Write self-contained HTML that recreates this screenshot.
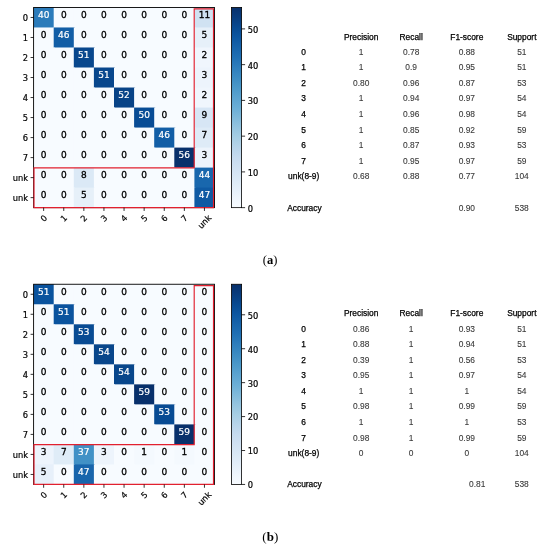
<!DOCTYPE html>
<html><head><meta charset="utf-8"><title>Confusion matrices</title>
<style>html,body{margin:0;padding:0;background:#fff;}body{width:550px;height:547px;overflow:hidden;}svg{display:block;}</style>
</head><body>
<svg width="550" height="547" viewBox="0 0 550 547">
<style>
.m text{font-family:'DejaVu Sans',sans-serif;stroke:#000;stroke-width:0.2px;}
.m text.c{stroke-width:0.3px;}
.m text.w{fill:#fff;stroke:#fff;stroke-width:0.2px;}
.th{font-family:'Liberation Sans',sans-serif;font-size:8.4px;fill:#000;stroke:#000;stroke-width:0.25px;}
.tl{font-family:'Liberation Sans',sans-serif;font-size:8.4px;fill:#000;stroke:#000;stroke-width:0.25px;}
.tv{font-family:'Liberation Sans',sans-serif;font-size:8.4px;fill:#3a3a3a;stroke:#3a3a3a;stroke-width:0.1px;}
.cap{font-family:'Liberation Serif',serif;fill:#000;}
</style>
<rect width="550" height="547" fill="#fff"/>
<g class="m">
<rect x="33.60" y="7.45" width="21.10" height="21.02" fill="#2b7bba"/>
<rect x="53.70" y="7.45" width="21.10" height="21.02" fill="#f7fbff"/>
<rect x="73.80" y="7.45" width="21.10" height="21.02" fill="#f7fbff"/>
<rect x="93.90" y="7.45" width="21.10" height="21.02" fill="#f7fbff"/>
<rect x="114.00" y="7.45" width="21.10" height="21.02" fill="#f7fbff"/>
<rect x="134.10" y="7.45" width="21.10" height="21.02" fill="#f7fbff"/>
<rect x="154.20" y="7.45" width="21.10" height="21.02" fill="#f7fbff"/>
<rect x="174.30" y="7.45" width="21.10" height="21.02" fill="#f7fbff"/>
<rect x="194.40" y="7.45" width="20.30" height="21.02" fill="#d0e2f2"/>
<rect x="33.60" y="27.47" width="21.10" height="21.02" fill="#f7fbff"/>
<rect x="53.70" y="27.47" width="21.10" height="21.02" fill="#125ea6"/>
<rect x="73.80" y="27.47" width="21.10" height="21.02" fill="#f7fbff"/>
<rect x="93.90" y="27.47" width="21.10" height="21.02" fill="#f7fbff"/>
<rect x="114.00" y="27.47" width="21.10" height="21.02" fill="#f7fbff"/>
<rect x="134.10" y="27.47" width="21.10" height="21.02" fill="#f7fbff"/>
<rect x="154.20" y="27.47" width="21.10" height="21.02" fill="#f7fbff"/>
<rect x="174.30" y="27.47" width="21.10" height="21.02" fill="#f7fbff"/>
<rect x="194.40" y="27.47" width="20.30" height="21.02" fill="#e6f0f9"/>
<rect x="33.60" y="47.49" width="21.10" height="21.02" fill="#f7fbff"/>
<rect x="53.70" y="47.49" width="21.10" height="21.02" fill="#f7fbff"/>
<rect x="73.80" y="47.49" width="21.10" height="21.02" fill="#08478d"/>
<rect x="93.90" y="47.49" width="21.10" height="21.02" fill="#f7fbff"/>
<rect x="114.00" y="47.49" width="21.10" height="21.02" fill="#f7fbff"/>
<rect x="134.10" y="47.49" width="21.10" height="21.02" fill="#f7fbff"/>
<rect x="154.20" y="47.49" width="21.10" height="21.02" fill="#f7fbff"/>
<rect x="174.30" y="47.49" width="21.10" height="21.02" fill="#f7fbff"/>
<rect x="194.40" y="47.49" width="20.30" height="21.02" fill="#f0f6fd"/>
<rect x="33.60" y="67.51" width="21.10" height="21.02" fill="#f7fbff"/>
<rect x="53.70" y="67.51" width="21.10" height="21.02" fill="#f7fbff"/>
<rect x="73.80" y="67.51" width="21.10" height="21.02" fill="#f7fbff"/>
<rect x="93.90" y="67.51" width="21.10" height="21.02" fill="#08478d"/>
<rect x="114.00" y="67.51" width="21.10" height="21.02" fill="#f7fbff"/>
<rect x="134.10" y="67.51" width="21.10" height="21.02" fill="#f7fbff"/>
<rect x="154.20" y="67.51" width="21.10" height="21.02" fill="#f7fbff"/>
<rect x="174.30" y="67.51" width="21.10" height="21.02" fill="#f7fbff"/>
<rect x="194.40" y="67.51" width="20.30" height="21.02" fill="#edf4fc"/>
<rect x="33.60" y="87.53" width="21.10" height="21.02" fill="#f7fbff"/>
<rect x="53.70" y="87.53" width="21.10" height="21.02" fill="#f7fbff"/>
<rect x="73.80" y="87.53" width="21.10" height="21.02" fill="#f7fbff"/>
<rect x="93.90" y="87.53" width="21.10" height="21.02" fill="#f7fbff"/>
<rect x="114.00" y="87.53" width="21.10" height="21.02" fill="#084387"/>
<rect x="134.10" y="87.53" width="21.10" height="21.02" fill="#f7fbff"/>
<rect x="154.20" y="87.53" width="21.10" height="21.02" fill="#f7fbff"/>
<rect x="174.30" y="87.53" width="21.10" height="21.02" fill="#f7fbff"/>
<rect x="194.40" y="87.53" width="20.30" height="21.02" fill="#f0f6fd"/>
<rect x="33.60" y="107.55" width="21.10" height="21.02" fill="#f7fbff"/>
<rect x="53.70" y="107.55" width="21.10" height="21.02" fill="#f7fbff"/>
<rect x="73.80" y="107.55" width="21.10" height="21.02" fill="#f7fbff"/>
<rect x="93.90" y="107.55" width="21.10" height="21.02" fill="#f7fbff"/>
<rect x="114.00" y="107.55" width="21.10" height="21.02" fill="#f7fbff"/>
<rect x="134.10" y="107.55" width="21.10" height="21.02" fill="#084c95"/>
<rect x="154.20" y="107.55" width="21.10" height="21.02" fill="#f7fbff"/>
<rect x="174.30" y="107.55" width="21.10" height="21.02" fill="#f7fbff"/>
<rect x="194.40" y="107.55" width="20.30" height="21.02" fill="#d7e6f5"/>
<rect x="33.60" y="127.57" width="21.10" height="21.02" fill="#f7fbff"/>
<rect x="53.70" y="127.57" width="21.10" height="21.02" fill="#f7fbff"/>
<rect x="73.80" y="127.57" width="21.10" height="21.02" fill="#f7fbff"/>
<rect x="93.90" y="127.57" width="21.10" height="21.02" fill="#f7fbff"/>
<rect x="114.00" y="127.57" width="21.10" height="21.02" fill="#f7fbff"/>
<rect x="134.10" y="127.57" width="21.10" height="21.02" fill="#f7fbff"/>
<rect x="154.20" y="127.57" width="21.10" height="21.02" fill="#125ea6"/>
<rect x="174.30" y="127.57" width="21.10" height="21.02" fill="#f7fbff"/>
<rect x="194.40" y="127.57" width="20.30" height="21.02" fill="#deebf7"/>
<rect x="33.60" y="147.59" width="21.10" height="21.02" fill="#f7fbff"/>
<rect x="53.70" y="147.59" width="21.10" height="21.02" fill="#f7fbff"/>
<rect x="73.80" y="147.59" width="21.10" height="21.02" fill="#f7fbff"/>
<rect x="93.90" y="147.59" width="21.10" height="21.02" fill="#f7fbff"/>
<rect x="114.00" y="147.59" width="21.10" height="21.02" fill="#f7fbff"/>
<rect x="134.10" y="147.59" width="21.10" height="21.02" fill="#f7fbff"/>
<rect x="154.20" y="147.59" width="21.10" height="21.02" fill="#f7fbff"/>
<rect x="174.30" y="147.59" width="21.10" height="21.02" fill="#08306b"/>
<rect x="194.40" y="147.59" width="20.30" height="21.02" fill="#edf4fc"/>
<rect x="33.60" y="167.61" width="21.10" height="21.02" fill="#f7fbff"/>
<rect x="53.70" y="167.61" width="21.10" height="21.02" fill="#f7fbff"/>
<rect x="73.80" y="167.61" width="21.10" height="21.02" fill="#dbe9f6"/>
<rect x="93.90" y="167.61" width="21.10" height="21.02" fill="#f7fbff"/>
<rect x="114.00" y="167.61" width="21.10" height="21.02" fill="#f7fbff"/>
<rect x="134.10" y="167.61" width="21.10" height="21.02" fill="#f7fbff"/>
<rect x="154.20" y="167.61" width="21.10" height="21.02" fill="#f7fbff"/>
<rect x="174.30" y="167.61" width="21.10" height="21.02" fill="#f7fbff"/>
<rect x="194.40" y="167.61" width="20.30" height="21.02" fill="#1967ad"/>
<rect x="33.60" y="187.63" width="21.10" height="20.22" fill="#f7fbff"/>
<rect x="53.70" y="187.63" width="21.10" height="20.22" fill="#f7fbff"/>
<rect x="73.80" y="187.63" width="21.10" height="20.22" fill="#e6f0f9"/>
<rect x="93.90" y="187.63" width="21.10" height="20.22" fill="#f7fbff"/>
<rect x="114.00" y="187.63" width="21.10" height="20.22" fill="#f7fbff"/>
<rect x="134.10" y="187.63" width="21.10" height="20.22" fill="#f7fbff"/>
<rect x="154.20" y="187.63" width="21.10" height="20.22" fill="#f7fbff"/>
<rect x="174.30" y="187.63" width="21.10" height="20.22" fill="#f7fbff"/>
<rect x="194.40" y="187.63" width="20.30" height="20.22" fill="#0f5aa3"/>
<text class="c w" x="43.65" y="18.00" font-size="9.0" text-anchor="middle">40</text>
<text class="c" x="63.75" y="18.00" font-size="9.0" text-anchor="middle">0</text>
<text class="c" x="83.85" y="18.00" font-size="9.0" text-anchor="middle">0</text>
<text class="c" x="103.95" y="18.00" font-size="9.0" text-anchor="middle">0</text>
<text class="c" x="124.05" y="18.00" font-size="9.0" text-anchor="middle">0</text>
<text class="c" x="144.15" y="18.00" font-size="9.0" text-anchor="middle">0</text>
<text class="c" x="164.25" y="18.00" font-size="9.0" text-anchor="middle">0</text>
<text class="c" x="184.35" y="18.00" font-size="9.0" text-anchor="middle">0</text>
<text class="c" x="204.45" y="18.00" font-size="9.0" text-anchor="middle">11</text>
<text class="c" x="43.65" y="38.02" font-size="9.0" text-anchor="middle">0</text>
<text class="c w" x="63.75" y="38.02" font-size="9.0" text-anchor="middle">46</text>
<text class="c" x="83.85" y="38.02" font-size="9.0" text-anchor="middle">0</text>
<text class="c" x="103.95" y="38.02" font-size="9.0" text-anchor="middle">0</text>
<text class="c" x="124.05" y="38.02" font-size="9.0" text-anchor="middle">0</text>
<text class="c" x="144.15" y="38.02" font-size="9.0" text-anchor="middle">0</text>
<text class="c" x="164.25" y="38.02" font-size="9.0" text-anchor="middle">0</text>
<text class="c" x="184.35" y="38.02" font-size="9.0" text-anchor="middle">0</text>
<text class="c" x="204.45" y="38.02" font-size="9.0" text-anchor="middle">5</text>
<text class="c" x="43.65" y="58.04" font-size="9.0" text-anchor="middle">0</text>
<text class="c" x="63.75" y="58.04" font-size="9.0" text-anchor="middle">0</text>
<text class="c w" x="83.85" y="58.04" font-size="9.0" text-anchor="middle">51</text>
<text class="c" x="103.95" y="58.04" font-size="9.0" text-anchor="middle">0</text>
<text class="c" x="124.05" y="58.04" font-size="9.0" text-anchor="middle">0</text>
<text class="c" x="144.15" y="58.04" font-size="9.0" text-anchor="middle">0</text>
<text class="c" x="164.25" y="58.04" font-size="9.0" text-anchor="middle">0</text>
<text class="c" x="184.35" y="58.04" font-size="9.0" text-anchor="middle">0</text>
<text class="c" x="204.45" y="58.04" font-size="9.0" text-anchor="middle">2</text>
<text class="c" x="43.65" y="78.06" font-size="9.0" text-anchor="middle">0</text>
<text class="c" x="63.75" y="78.06" font-size="9.0" text-anchor="middle">0</text>
<text class="c" x="83.85" y="78.06" font-size="9.0" text-anchor="middle">0</text>
<text class="c w" x="103.95" y="78.06" font-size="9.0" text-anchor="middle">51</text>
<text class="c" x="124.05" y="78.06" font-size="9.0" text-anchor="middle">0</text>
<text class="c" x="144.15" y="78.06" font-size="9.0" text-anchor="middle">0</text>
<text class="c" x="164.25" y="78.06" font-size="9.0" text-anchor="middle">0</text>
<text class="c" x="184.35" y="78.06" font-size="9.0" text-anchor="middle">0</text>
<text class="c" x="204.45" y="78.06" font-size="9.0" text-anchor="middle">3</text>
<text class="c" x="43.65" y="98.08" font-size="9.0" text-anchor="middle">0</text>
<text class="c" x="63.75" y="98.08" font-size="9.0" text-anchor="middle">0</text>
<text class="c" x="83.85" y="98.08" font-size="9.0" text-anchor="middle">0</text>
<text class="c" x="103.95" y="98.08" font-size="9.0" text-anchor="middle">0</text>
<text class="c w" x="124.05" y="98.08" font-size="9.0" text-anchor="middle">52</text>
<text class="c" x="144.15" y="98.08" font-size="9.0" text-anchor="middle">0</text>
<text class="c" x="164.25" y="98.08" font-size="9.0" text-anchor="middle">0</text>
<text class="c" x="184.35" y="98.08" font-size="9.0" text-anchor="middle">0</text>
<text class="c" x="204.45" y="98.08" font-size="9.0" text-anchor="middle">2</text>
<text class="c" x="43.65" y="118.10" font-size="9.0" text-anchor="middle">0</text>
<text class="c" x="63.75" y="118.10" font-size="9.0" text-anchor="middle">0</text>
<text class="c" x="83.85" y="118.10" font-size="9.0" text-anchor="middle">0</text>
<text class="c" x="103.95" y="118.10" font-size="9.0" text-anchor="middle">0</text>
<text class="c" x="124.05" y="118.10" font-size="9.0" text-anchor="middle">0</text>
<text class="c w" x="144.15" y="118.10" font-size="9.0" text-anchor="middle">50</text>
<text class="c" x="164.25" y="118.10" font-size="9.0" text-anchor="middle">0</text>
<text class="c" x="184.35" y="118.10" font-size="9.0" text-anchor="middle">0</text>
<text class="c" x="204.45" y="118.10" font-size="9.0" text-anchor="middle">9</text>
<text class="c" x="43.65" y="138.12" font-size="9.0" text-anchor="middle">0</text>
<text class="c" x="63.75" y="138.12" font-size="9.0" text-anchor="middle">0</text>
<text class="c" x="83.85" y="138.12" font-size="9.0" text-anchor="middle">0</text>
<text class="c" x="103.95" y="138.12" font-size="9.0" text-anchor="middle">0</text>
<text class="c" x="124.05" y="138.12" font-size="9.0" text-anchor="middle">0</text>
<text class="c" x="144.15" y="138.12" font-size="9.0" text-anchor="middle">0</text>
<text class="c w" x="164.25" y="138.12" font-size="9.0" text-anchor="middle">46</text>
<text class="c" x="184.35" y="138.12" font-size="9.0" text-anchor="middle">0</text>
<text class="c" x="204.45" y="138.12" font-size="9.0" text-anchor="middle">7</text>
<text class="c" x="43.65" y="158.14" font-size="9.0" text-anchor="middle">0</text>
<text class="c" x="63.75" y="158.14" font-size="9.0" text-anchor="middle">0</text>
<text class="c" x="83.85" y="158.14" font-size="9.0" text-anchor="middle">0</text>
<text class="c" x="103.95" y="158.14" font-size="9.0" text-anchor="middle">0</text>
<text class="c" x="124.05" y="158.14" font-size="9.0" text-anchor="middle">0</text>
<text class="c" x="144.15" y="158.14" font-size="9.0" text-anchor="middle">0</text>
<text class="c" x="164.25" y="158.14" font-size="9.0" text-anchor="middle">0</text>
<text class="c w" x="184.35" y="158.14" font-size="9.0" text-anchor="middle">56</text>
<text class="c" x="204.45" y="158.14" font-size="9.0" text-anchor="middle">3</text>
<text class="c" x="43.65" y="178.16" font-size="9.0" text-anchor="middle">0</text>
<text class="c" x="63.75" y="178.16" font-size="9.0" text-anchor="middle">0</text>
<text class="c" x="83.85" y="178.16" font-size="9.0" text-anchor="middle">8</text>
<text class="c" x="103.95" y="178.16" font-size="9.0" text-anchor="middle">0</text>
<text class="c" x="124.05" y="178.16" font-size="9.0" text-anchor="middle">0</text>
<text class="c" x="144.15" y="178.16" font-size="9.0" text-anchor="middle">0</text>
<text class="c" x="164.25" y="178.16" font-size="9.0" text-anchor="middle">0</text>
<text class="c" x="184.35" y="178.16" font-size="9.0" text-anchor="middle">0</text>
<text class="c w" x="204.45" y="178.16" font-size="9.0" text-anchor="middle">44</text>
<text class="c" x="43.65" y="198.18" font-size="9.0" text-anchor="middle">0</text>
<text class="c" x="63.75" y="198.18" font-size="9.0" text-anchor="middle">0</text>
<text class="c" x="83.85" y="198.18" font-size="9.0" text-anchor="middle">5</text>
<text class="c" x="103.95" y="198.18" font-size="9.0" text-anchor="middle">0</text>
<text class="c" x="124.05" y="198.18" font-size="9.0" text-anchor="middle">0</text>
<text class="c" x="144.15" y="198.18" font-size="9.0" text-anchor="middle">0</text>
<text class="c" x="164.25" y="198.18" font-size="9.0" text-anchor="middle">0</text>
<text class="c" x="184.35" y="198.18" font-size="9.0" text-anchor="middle">0</text>
<text class="c w" x="204.45" y="198.18" font-size="9.0" text-anchor="middle">47</text>
<rect x="33.60" y="7.45" width="180.90" height="200.20" fill="none" stroke="#000" stroke-width="0.9"/>
<path d="M194.20,8.85 L213.50,8.85 L213.50,207.55 L34.00,207.55 L34.00,167.81 L194.20,167.81 Z" fill="none" stroke="#e2202f" stroke-width="1.15"/>
<line x1="30.60" y1="17.46" x2="33.60" y2="17.46" stroke="#000" stroke-width="0.8"/>
<text x="28.10" y="20.96" font-size="8.3" text-anchor="end">0</text>
<line x1="30.60" y1="37.48" x2="33.60" y2="37.48" stroke="#000" stroke-width="0.8"/>
<text x="28.10" y="40.98" font-size="8.3" text-anchor="end">1</text>
<line x1="30.60" y1="57.50" x2="33.60" y2="57.50" stroke="#000" stroke-width="0.8"/>
<text x="28.10" y="61.00" font-size="8.3" text-anchor="end">2</text>
<line x1="30.60" y1="77.52" x2="33.60" y2="77.52" stroke="#000" stroke-width="0.8"/>
<text x="28.10" y="81.02" font-size="8.3" text-anchor="end">3</text>
<line x1="30.60" y1="97.54" x2="33.60" y2="97.54" stroke="#000" stroke-width="0.8"/>
<text x="28.10" y="101.04" font-size="8.3" text-anchor="end">4</text>
<line x1="30.60" y1="117.56" x2="33.60" y2="117.56" stroke="#000" stroke-width="0.8"/>
<text x="28.10" y="121.06" font-size="8.3" text-anchor="end">5</text>
<line x1="30.60" y1="137.58" x2="33.60" y2="137.58" stroke="#000" stroke-width="0.8"/>
<text x="28.10" y="141.08" font-size="8.3" text-anchor="end">6</text>
<line x1="30.60" y1="157.60" x2="33.60" y2="157.60" stroke="#000" stroke-width="0.8"/>
<text x="28.10" y="161.10" font-size="8.3" text-anchor="end">7</text>
<line x1="30.60" y1="177.62" x2="33.60" y2="177.62" stroke="#000" stroke-width="0.8"/>
<text x="28.10" y="181.12" font-size="8.3" text-anchor="end">unk</text>
<line x1="30.60" y1="197.64" x2="33.60" y2="197.64" stroke="#000" stroke-width="0.8"/>
<text x="28.10" y="201.14" font-size="8.3" text-anchor="end">unk</text>
<line x1="43.65" y1="207.65" x2="43.65" y2="210.95" stroke="#000" stroke-width="0.8"/>
<text x="43.65" y="221.15" font-size="8.3" text-anchor="middle" transform="rotate(-45 43.65 218.15)">0</text>
<line x1="63.75" y1="207.65" x2="63.75" y2="210.95" stroke="#000" stroke-width="0.8"/>
<text x="63.75" y="221.15" font-size="8.3" text-anchor="middle" transform="rotate(-45 63.75 218.15)">1</text>
<line x1="83.85" y1="207.65" x2="83.85" y2="210.95" stroke="#000" stroke-width="0.8"/>
<text x="83.85" y="221.15" font-size="8.3" text-anchor="middle" transform="rotate(-45 83.85 218.15)">2</text>
<line x1="103.95" y1="207.65" x2="103.95" y2="210.95" stroke="#000" stroke-width="0.8"/>
<text x="103.95" y="221.15" font-size="8.3" text-anchor="middle" transform="rotate(-45 103.95 218.15)">3</text>
<line x1="124.05" y1="207.65" x2="124.05" y2="210.95" stroke="#000" stroke-width="0.8"/>
<text x="124.05" y="221.15" font-size="8.3" text-anchor="middle" transform="rotate(-45 124.05 218.15)">4</text>
<line x1="144.15" y1="207.65" x2="144.15" y2="210.95" stroke="#000" stroke-width="0.8"/>
<text x="144.15" y="221.15" font-size="8.3" text-anchor="middle" transform="rotate(-45 144.15 218.15)">5</text>
<line x1="164.25" y1="207.65" x2="164.25" y2="210.95" stroke="#000" stroke-width="0.8"/>
<text x="164.25" y="221.15" font-size="8.3" text-anchor="middle" transform="rotate(-45 164.25 218.15)">6</text>
<line x1="184.35" y1="207.65" x2="184.35" y2="210.95" stroke="#000" stroke-width="0.8"/>
<text x="184.35" y="221.15" font-size="8.3" text-anchor="middle" transform="rotate(-45 184.35 218.15)">7</text>
<line x1="204.45" y1="207.65" x2="204.45" y2="210.95" stroke="#000" stroke-width="0.8"/>
<text x="204.45" y="224.69" font-size="8.3" text-anchor="middle" transform="rotate(-45 204.45 221.69)">unk</text>
<defs><linearGradient id="g0" x1="0" y1="0" x2="0" y2="1"><stop offset="0.000" stop-color="#08306b"/><stop offset="0.050" stop-color="#083c7d"/><stop offset="0.100" stop-color="#084a91"/><stop offset="0.150" stop-color="#0d57a1"/><stop offset="0.200" stop-color="#1764ab"/><stop offset="0.250" stop-color="#2070b4"/><stop offset="0.300" stop-color="#2e7ebc"/><stop offset="0.350" stop-color="#3b8bc2"/><stop offset="0.400" stop-color="#4a98c9"/><stop offset="0.450" stop-color="#5ba3d0"/><stop offset="0.500" stop-color="#6aaed6"/><stop offset="0.550" stop-color="#7fb9da"/><stop offset="0.600" stop-color="#94c4df"/><stop offset="0.650" stop-color="#a6cee4"/><stop offset="0.700" stop-color="#b7d4ea"/><stop offset="0.750" stop-color="#c6dbef"/><stop offset="0.800" stop-color="#d0e1f2"/><stop offset="0.850" stop-color="#d9e8f5"/><stop offset="0.900" stop-color="#e3eef9"/><stop offset="0.950" stop-color="#eef5fc"/><stop offset="1.000" stop-color="#f7fbff"/></linearGradient></defs>
<rect x="231.5" y="7.45" width="10.1" height="200.20" fill="url(#g0)" stroke="#000" stroke-width="0.8"/>
<line x1="241.60" y1="207.65" x2="245.10" y2="207.65" stroke="#000" stroke-width="0.8"/>
<text x="247.80" y="211.55" font-size="8.3">0</text>
<line x1="241.60" y1="171.90" x2="245.10" y2="171.90" stroke="#000" stroke-width="0.8"/>
<text x="247.80" y="175.80" font-size="8.3">10</text>
<line x1="241.60" y1="136.15" x2="245.10" y2="136.15" stroke="#000" stroke-width="0.8"/>
<text x="247.80" y="140.05" font-size="8.3">20</text>
<line x1="241.60" y1="100.40" x2="245.10" y2="100.40" stroke="#000" stroke-width="0.8"/>
<text x="247.80" y="104.30" font-size="8.3">30</text>
<line x1="241.60" y1="64.65" x2="245.10" y2="64.65" stroke="#000" stroke-width="0.8"/>
<text x="247.80" y="68.55" font-size="8.3">40</text>
<line x1="241.60" y1="28.90" x2="245.10" y2="28.90" stroke="#000" stroke-width="0.8"/>
<text x="247.80" y="32.80" font-size="8.3">50</text>
<rect x="33.60" y="284.25" width="21.10" height="21.02" fill="#0a539e"/>
<rect x="53.70" y="284.25" width="21.10" height="21.02" fill="#f7fbff"/>
<rect x="73.80" y="284.25" width="21.10" height="21.02" fill="#f7fbff"/>
<rect x="93.90" y="284.25" width="21.10" height="21.02" fill="#f7fbff"/>
<rect x="114.00" y="284.25" width="21.10" height="21.02" fill="#f7fbff"/>
<rect x="134.10" y="284.25" width="21.10" height="21.02" fill="#f7fbff"/>
<rect x="154.20" y="284.25" width="21.10" height="21.02" fill="#f7fbff"/>
<rect x="174.30" y="284.25" width="21.10" height="21.02" fill="#f7fbff"/>
<rect x="194.40" y="284.25" width="20.30" height="21.02" fill="#f7fbff"/>
<rect x="33.60" y="304.27" width="21.10" height="21.02" fill="#f7fbff"/>
<rect x="53.70" y="304.27" width="21.10" height="21.02" fill="#0a539e"/>
<rect x="73.80" y="304.27" width="21.10" height="21.02" fill="#f7fbff"/>
<rect x="93.90" y="304.27" width="21.10" height="21.02" fill="#f7fbff"/>
<rect x="114.00" y="304.27" width="21.10" height="21.02" fill="#f7fbff"/>
<rect x="134.10" y="304.27" width="21.10" height="21.02" fill="#f7fbff"/>
<rect x="154.20" y="304.27" width="21.10" height="21.02" fill="#f7fbff"/>
<rect x="174.30" y="304.27" width="21.10" height="21.02" fill="#f7fbff"/>
<rect x="194.40" y="304.27" width="20.30" height="21.02" fill="#f7fbff"/>
<rect x="33.60" y="324.29" width="21.10" height="21.02" fill="#f7fbff"/>
<rect x="53.70" y="324.29" width="21.10" height="21.02" fill="#f7fbff"/>
<rect x="73.80" y="324.29" width="21.10" height="21.02" fill="#084b93"/>
<rect x="93.90" y="324.29" width="21.10" height="21.02" fill="#f7fbff"/>
<rect x="114.00" y="324.29" width="21.10" height="21.02" fill="#f7fbff"/>
<rect x="134.10" y="324.29" width="21.10" height="21.02" fill="#f7fbff"/>
<rect x="154.20" y="324.29" width="21.10" height="21.02" fill="#f7fbff"/>
<rect x="174.30" y="324.29" width="21.10" height="21.02" fill="#f7fbff"/>
<rect x="194.40" y="324.29" width="20.30" height="21.02" fill="#f7fbff"/>
<rect x="33.60" y="344.31" width="21.10" height="21.02" fill="#f7fbff"/>
<rect x="53.70" y="344.31" width="21.10" height="21.02" fill="#f7fbff"/>
<rect x="73.80" y="344.31" width="21.10" height="21.02" fill="#f7fbff"/>
<rect x="93.90" y="344.31" width="21.10" height="21.02" fill="#08468b"/>
<rect x="114.00" y="344.31" width="21.10" height="21.02" fill="#f7fbff"/>
<rect x="134.10" y="344.31" width="21.10" height="21.02" fill="#f7fbff"/>
<rect x="154.20" y="344.31" width="21.10" height="21.02" fill="#f7fbff"/>
<rect x="174.30" y="344.31" width="21.10" height="21.02" fill="#f7fbff"/>
<rect x="194.40" y="344.31" width="20.30" height="21.02" fill="#f7fbff"/>
<rect x="33.60" y="364.33" width="21.10" height="21.02" fill="#f7fbff"/>
<rect x="53.70" y="364.33" width="21.10" height="21.02" fill="#f7fbff"/>
<rect x="73.80" y="364.33" width="21.10" height="21.02" fill="#f7fbff"/>
<rect x="93.90" y="364.33" width="21.10" height="21.02" fill="#f7fbff"/>
<rect x="114.00" y="364.33" width="21.10" height="21.02" fill="#08468b"/>
<rect x="134.10" y="364.33" width="21.10" height="21.02" fill="#f7fbff"/>
<rect x="154.20" y="364.33" width="21.10" height="21.02" fill="#f7fbff"/>
<rect x="174.30" y="364.33" width="21.10" height="21.02" fill="#f7fbff"/>
<rect x="194.40" y="364.33" width="20.30" height="21.02" fill="#f7fbff"/>
<rect x="33.60" y="384.35" width="21.10" height="21.02" fill="#f7fbff"/>
<rect x="53.70" y="384.35" width="21.10" height="21.02" fill="#f7fbff"/>
<rect x="73.80" y="384.35" width="21.10" height="21.02" fill="#f7fbff"/>
<rect x="93.90" y="384.35" width="21.10" height="21.02" fill="#f7fbff"/>
<rect x="114.00" y="384.35" width="21.10" height="21.02" fill="#f7fbff"/>
<rect x="134.10" y="384.35" width="21.10" height="21.02" fill="#08306b"/>
<rect x="154.20" y="384.35" width="21.10" height="21.02" fill="#f7fbff"/>
<rect x="174.30" y="384.35" width="21.10" height="21.02" fill="#f7fbff"/>
<rect x="194.40" y="384.35" width="20.30" height="21.02" fill="#f7fbff"/>
<rect x="33.60" y="404.37" width="21.10" height="21.02" fill="#f7fbff"/>
<rect x="53.70" y="404.37" width="21.10" height="21.02" fill="#f7fbff"/>
<rect x="73.80" y="404.37" width="21.10" height="21.02" fill="#f7fbff"/>
<rect x="93.90" y="404.37" width="21.10" height="21.02" fill="#f7fbff"/>
<rect x="114.00" y="404.37" width="21.10" height="21.02" fill="#f7fbff"/>
<rect x="134.10" y="404.37" width="21.10" height="21.02" fill="#f7fbff"/>
<rect x="154.20" y="404.37" width="21.10" height="21.02" fill="#084b93"/>
<rect x="174.30" y="404.37" width="21.10" height="21.02" fill="#f7fbff"/>
<rect x="194.40" y="404.37" width="20.30" height="21.02" fill="#f7fbff"/>
<rect x="33.60" y="424.39" width="21.10" height="21.02" fill="#f7fbff"/>
<rect x="53.70" y="424.39" width="21.10" height="21.02" fill="#f7fbff"/>
<rect x="73.80" y="424.39" width="21.10" height="21.02" fill="#f7fbff"/>
<rect x="93.90" y="424.39" width="21.10" height="21.02" fill="#f7fbff"/>
<rect x="114.00" y="424.39" width="21.10" height="21.02" fill="#f7fbff"/>
<rect x="134.10" y="424.39" width="21.10" height="21.02" fill="#f7fbff"/>
<rect x="154.20" y="424.39" width="21.10" height="21.02" fill="#f7fbff"/>
<rect x="174.30" y="424.39" width="21.10" height="21.02" fill="#08306b"/>
<rect x="194.40" y="424.39" width="20.30" height="21.02" fill="#f7fbff"/>
<rect x="33.60" y="444.41" width="21.10" height="21.02" fill="#edf4fc"/>
<rect x="53.70" y="444.41" width="21.10" height="21.02" fill="#dfecf7"/>
<rect x="73.80" y="444.41" width="21.10" height="21.02" fill="#4191c6"/>
<rect x="93.90" y="444.41" width="21.10" height="21.02" fill="#edf4fc"/>
<rect x="114.00" y="444.41" width="21.10" height="21.02" fill="#f7fbff"/>
<rect x="134.10" y="444.41" width="21.10" height="21.02" fill="#f4f9fe"/>
<rect x="154.20" y="444.41" width="21.10" height="21.02" fill="#f7fbff"/>
<rect x="174.30" y="444.41" width="21.10" height="21.02" fill="#f4f9fe"/>
<rect x="194.40" y="444.41" width="20.30" height="21.02" fill="#f7fbff"/>
<rect x="33.60" y="464.43" width="21.10" height="20.22" fill="#e7f0fa"/>
<rect x="53.70" y="464.43" width="21.10" height="20.22" fill="#f7fbff"/>
<rect x="73.80" y="464.43" width="21.10" height="20.22" fill="#1865ac"/>
<rect x="93.90" y="464.43" width="21.10" height="20.22" fill="#f7fbff"/>
<rect x="114.00" y="464.43" width="21.10" height="20.22" fill="#f7fbff"/>
<rect x="134.10" y="464.43" width="21.10" height="20.22" fill="#f7fbff"/>
<rect x="154.20" y="464.43" width="21.10" height="20.22" fill="#f7fbff"/>
<rect x="174.30" y="464.43" width="21.10" height="20.22" fill="#f7fbff"/>
<rect x="194.40" y="464.43" width="20.30" height="20.22" fill="#f7fbff"/>
<text class="c w" x="43.65" y="294.80" font-size="9.0" text-anchor="middle">51</text>
<text class="c" x="63.75" y="294.80" font-size="9.0" text-anchor="middle">0</text>
<text class="c" x="83.85" y="294.80" font-size="9.0" text-anchor="middle">0</text>
<text class="c" x="103.95" y="294.80" font-size="9.0" text-anchor="middle">0</text>
<text class="c" x="124.05" y="294.80" font-size="9.0" text-anchor="middle">0</text>
<text class="c" x="144.15" y="294.80" font-size="9.0" text-anchor="middle">0</text>
<text class="c" x="164.25" y="294.80" font-size="9.0" text-anchor="middle">0</text>
<text class="c" x="184.35" y="294.80" font-size="9.0" text-anchor="middle">0</text>
<text class="c" x="204.45" y="294.80" font-size="9.0" text-anchor="middle">0</text>
<text class="c" x="43.65" y="314.82" font-size="9.0" text-anchor="middle">0</text>
<text class="c w" x="63.75" y="314.82" font-size="9.0" text-anchor="middle">51</text>
<text class="c" x="83.85" y="314.82" font-size="9.0" text-anchor="middle">0</text>
<text class="c" x="103.95" y="314.82" font-size="9.0" text-anchor="middle">0</text>
<text class="c" x="124.05" y="314.82" font-size="9.0" text-anchor="middle">0</text>
<text class="c" x="144.15" y="314.82" font-size="9.0" text-anchor="middle">0</text>
<text class="c" x="164.25" y="314.82" font-size="9.0" text-anchor="middle">0</text>
<text class="c" x="184.35" y="314.82" font-size="9.0" text-anchor="middle">0</text>
<text class="c" x="204.45" y="314.82" font-size="9.0" text-anchor="middle">0</text>
<text class="c" x="43.65" y="334.84" font-size="9.0" text-anchor="middle">0</text>
<text class="c" x="63.75" y="334.84" font-size="9.0" text-anchor="middle">0</text>
<text class="c w" x="83.85" y="334.84" font-size="9.0" text-anchor="middle">53</text>
<text class="c" x="103.95" y="334.84" font-size="9.0" text-anchor="middle">0</text>
<text class="c" x="124.05" y="334.84" font-size="9.0" text-anchor="middle">0</text>
<text class="c" x="144.15" y="334.84" font-size="9.0" text-anchor="middle">0</text>
<text class="c" x="164.25" y="334.84" font-size="9.0" text-anchor="middle">0</text>
<text class="c" x="184.35" y="334.84" font-size="9.0" text-anchor="middle">0</text>
<text class="c" x="204.45" y="334.84" font-size="9.0" text-anchor="middle">0</text>
<text class="c" x="43.65" y="354.86" font-size="9.0" text-anchor="middle">0</text>
<text class="c" x="63.75" y="354.86" font-size="9.0" text-anchor="middle">0</text>
<text class="c" x="83.85" y="354.86" font-size="9.0" text-anchor="middle">0</text>
<text class="c w" x="103.95" y="354.86" font-size="9.0" text-anchor="middle">54</text>
<text class="c" x="124.05" y="354.86" font-size="9.0" text-anchor="middle">0</text>
<text class="c" x="144.15" y="354.86" font-size="9.0" text-anchor="middle">0</text>
<text class="c" x="164.25" y="354.86" font-size="9.0" text-anchor="middle">0</text>
<text class="c" x="184.35" y="354.86" font-size="9.0" text-anchor="middle">0</text>
<text class="c" x="204.45" y="354.86" font-size="9.0" text-anchor="middle">0</text>
<text class="c" x="43.65" y="374.88" font-size="9.0" text-anchor="middle">0</text>
<text class="c" x="63.75" y="374.88" font-size="9.0" text-anchor="middle">0</text>
<text class="c" x="83.85" y="374.88" font-size="9.0" text-anchor="middle">0</text>
<text class="c" x="103.95" y="374.88" font-size="9.0" text-anchor="middle">0</text>
<text class="c w" x="124.05" y="374.88" font-size="9.0" text-anchor="middle">54</text>
<text class="c" x="144.15" y="374.88" font-size="9.0" text-anchor="middle">0</text>
<text class="c" x="164.25" y="374.88" font-size="9.0" text-anchor="middle">0</text>
<text class="c" x="184.35" y="374.88" font-size="9.0" text-anchor="middle">0</text>
<text class="c" x="204.45" y="374.88" font-size="9.0" text-anchor="middle">0</text>
<text class="c" x="43.65" y="394.90" font-size="9.0" text-anchor="middle">0</text>
<text class="c" x="63.75" y="394.90" font-size="9.0" text-anchor="middle">0</text>
<text class="c" x="83.85" y="394.90" font-size="9.0" text-anchor="middle">0</text>
<text class="c" x="103.95" y="394.90" font-size="9.0" text-anchor="middle">0</text>
<text class="c" x="124.05" y="394.90" font-size="9.0" text-anchor="middle">0</text>
<text class="c w" x="144.15" y="394.90" font-size="9.0" text-anchor="middle">59</text>
<text class="c" x="164.25" y="394.90" font-size="9.0" text-anchor="middle">0</text>
<text class="c" x="184.35" y="394.90" font-size="9.0" text-anchor="middle">0</text>
<text class="c" x="204.45" y="394.90" font-size="9.0" text-anchor="middle">0</text>
<text class="c" x="43.65" y="414.92" font-size="9.0" text-anchor="middle">0</text>
<text class="c" x="63.75" y="414.92" font-size="9.0" text-anchor="middle">0</text>
<text class="c" x="83.85" y="414.92" font-size="9.0" text-anchor="middle">0</text>
<text class="c" x="103.95" y="414.92" font-size="9.0" text-anchor="middle">0</text>
<text class="c" x="124.05" y="414.92" font-size="9.0" text-anchor="middle">0</text>
<text class="c" x="144.15" y="414.92" font-size="9.0" text-anchor="middle">0</text>
<text class="c w" x="164.25" y="414.92" font-size="9.0" text-anchor="middle">53</text>
<text class="c" x="184.35" y="414.92" font-size="9.0" text-anchor="middle">0</text>
<text class="c" x="204.45" y="414.92" font-size="9.0" text-anchor="middle">0</text>
<text class="c" x="43.65" y="434.94" font-size="9.0" text-anchor="middle">0</text>
<text class="c" x="63.75" y="434.94" font-size="9.0" text-anchor="middle">0</text>
<text class="c" x="83.85" y="434.94" font-size="9.0" text-anchor="middle">0</text>
<text class="c" x="103.95" y="434.94" font-size="9.0" text-anchor="middle">0</text>
<text class="c" x="124.05" y="434.94" font-size="9.0" text-anchor="middle">0</text>
<text class="c" x="144.15" y="434.94" font-size="9.0" text-anchor="middle">0</text>
<text class="c" x="164.25" y="434.94" font-size="9.0" text-anchor="middle">0</text>
<text class="c w" x="184.35" y="434.94" font-size="9.0" text-anchor="middle">59</text>
<text class="c" x="204.45" y="434.94" font-size="9.0" text-anchor="middle">0</text>
<text class="c" x="43.65" y="454.96" font-size="9.0" text-anchor="middle">3</text>
<text class="c" x="63.75" y="454.96" font-size="9.0" text-anchor="middle">7</text>
<text class="c w" x="83.85" y="454.96" font-size="9.0" text-anchor="middle">37</text>
<text class="c" x="103.95" y="454.96" font-size="9.0" text-anchor="middle">3</text>
<text class="c" x="124.05" y="454.96" font-size="9.0" text-anchor="middle">0</text>
<text class="c" x="144.15" y="454.96" font-size="9.0" text-anchor="middle">1</text>
<text class="c" x="164.25" y="454.96" font-size="9.0" text-anchor="middle">0</text>
<text class="c" x="184.35" y="454.96" font-size="9.0" text-anchor="middle">1</text>
<text class="c" x="204.45" y="454.96" font-size="9.0" text-anchor="middle">0</text>
<text class="c" x="43.65" y="474.98" font-size="9.0" text-anchor="middle">5</text>
<text class="c" x="63.75" y="474.98" font-size="9.0" text-anchor="middle">0</text>
<text class="c w" x="83.85" y="474.98" font-size="9.0" text-anchor="middle">47</text>
<text class="c" x="103.95" y="474.98" font-size="9.0" text-anchor="middle">0</text>
<text class="c" x="124.05" y="474.98" font-size="9.0" text-anchor="middle">0</text>
<text class="c" x="144.15" y="474.98" font-size="9.0" text-anchor="middle">0</text>
<text class="c" x="164.25" y="474.98" font-size="9.0" text-anchor="middle">0</text>
<text class="c" x="184.35" y="474.98" font-size="9.0" text-anchor="middle">0</text>
<text class="c" x="204.45" y="474.98" font-size="9.0" text-anchor="middle">0</text>
<rect x="33.60" y="284.25" width="180.90" height="200.20" fill="none" stroke="#000" stroke-width="0.9"/>
<path d="M194.20,285.65 L213.50,285.65 L213.50,484.35 L34.00,484.35 L34.00,444.61 L194.20,444.61 Z" fill="none" stroke="#e2202f" stroke-width="1.15"/>
<line x1="30.60" y1="294.26" x2="33.60" y2="294.26" stroke="#000" stroke-width="0.8"/>
<text x="28.10" y="297.76" font-size="8.3" text-anchor="end">0</text>
<line x1="30.60" y1="314.28" x2="33.60" y2="314.28" stroke="#000" stroke-width="0.8"/>
<text x="28.10" y="317.78" font-size="8.3" text-anchor="end">1</text>
<line x1="30.60" y1="334.30" x2="33.60" y2="334.30" stroke="#000" stroke-width="0.8"/>
<text x="28.10" y="337.80" font-size="8.3" text-anchor="end">2</text>
<line x1="30.60" y1="354.32" x2="33.60" y2="354.32" stroke="#000" stroke-width="0.8"/>
<text x="28.10" y="357.82" font-size="8.3" text-anchor="end">3</text>
<line x1="30.60" y1="374.34" x2="33.60" y2="374.34" stroke="#000" stroke-width="0.8"/>
<text x="28.10" y="377.84" font-size="8.3" text-anchor="end">4</text>
<line x1="30.60" y1="394.36" x2="33.60" y2="394.36" stroke="#000" stroke-width="0.8"/>
<text x="28.10" y="397.86" font-size="8.3" text-anchor="end">5</text>
<line x1="30.60" y1="414.38" x2="33.60" y2="414.38" stroke="#000" stroke-width="0.8"/>
<text x="28.10" y="417.88" font-size="8.3" text-anchor="end">6</text>
<line x1="30.60" y1="434.40" x2="33.60" y2="434.40" stroke="#000" stroke-width="0.8"/>
<text x="28.10" y="437.90" font-size="8.3" text-anchor="end">7</text>
<line x1="30.60" y1="454.42" x2="33.60" y2="454.42" stroke="#000" stroke-width="0.8"/>
<text x="28.10" y="457.92" font-size="8.3" text-anchor="end">unk</text>
<line x1="30.60" y1="474.44" x2="33.60" y2="474.44" stroke="#000" stroke-width="0.8"/>
<text x="28.10" y="477.94" font-size="8.3" text-anchor="end">unk</text>
<line x1="43.65" y1="484.45" x2="43.65" y2="487.75" stroke="#000" stroke-width="0.8"/>
<text x="43.65" y="497.95" font-size="8.3" text-anchor="middle" transform="rotate(-45 43.65 494.95)">0</text>
<line x1="63.75" y1="484.45" x2="63.75" y2="487.75" stroke="#000" stroke-width="0.8"/>
<text x="63.75" y="497.95" font-size="8.3" text-anchor="middle" transform="rotate(-45 63.75 494.95)">1</text>
<line x1="83.85" y1="484.45" x2="83.85" y2="487.75" stroke="#000" stroke-width="0.8"/>
<text x="83.85" y="497.95" font-size="8.3" text-anchor="middle" transform="rotate(-45 83.85 494.95)">2</text>
<line x1="103.95" y1="484.45" x2="103.95" y2="487.75" stroke="#000" stroke-width="0.8"/>
<text x="103.95" y="497.95" font-size="8.3" text-anchor="middle" transform="rotate(-45 103.95 494.95)">3</text>
<line x1="124.05" y1="484.45" x2="124.05" y2="487.75" stroke="#000" stroke-width="0.8"/>
<text x="124.05" y="497.95" font-size="8.3" text-anchor="middle" transform="rotate(-45 124.05 494.95)">4</text>
<line x1="144.15" y1="484.45" x2="144.15" y2="487.75" stroke="#000" stroke-width="0.8"/>
<text x="144.15" y="497.95" font-size="8.3" text-anchor="middle" transform="rotate(-45 144.15 494.95)">5</text>
<line x1="164.25" y1="484.45" x2="164.25" y2="487.75" stroke="#000" stroke-width="0.8"/>
<text x="164.25" y="497.95" font-size="8.3" text-anchor="middle" transform="rotate(-45 164.25 494.95)">6</text>
<line x1="184.35" y1="484.45" x2="184.35" y2="487.75" stroke="#000" stroke-width="0.8"/>
<text x="184.35" y="497.95" font-size="8.3" text-anchor="middle" transform="rotate(-45 184.35 494.95)">7</text>
<line x1="204.45" y1="484.45" x2="204.45" y2="487.75" stroke="#000" stroke-width="0.8"/>
<text x="204.45" y="501.49" font-size="8.3" text-anchor="middle" transform="rotate(-45 204.45 498.49)">unk</text>
<defs><linearGradient id="g276" x1="0" y1="0" x2="0" y2="1"><stop offset="0.000" stop-color="#08306b"/><stop offset="0.050" stop-color="#083c7d"/><stop offset="0.100" stop-color="#084a91"/><stop offset="0.150" stop-color="#0d57a1"/><stop offset="0.200" stop-color="#1764ab"/><stop offset="0.250" stop-color="#2070b4"/><stop offset="0.300" stop-color="#2e7ebc"/><stop offset="0.350" stop-color="#3b8bc2"/><stop offset="0.400" stop-color="#4a98c9"/><stop offset="0.450" stop-color="#5ba3d0"/><stop offset="0.500" stop-color="#6aaed6"/><stop offset="0.550" stop-color="#7fb9da"/><stop offset="0.600" stop-color="#94c4df"/><stop offset="0.650" stop-color="#a6cee4"/><stop offset="0.700" stop-color="#b7d4ea"/><stop offset="0.750" stop-color="#c6dbef"/><stop offset="0.800" stop-color="#d0e1f2"/><stop offset="0.850" stop-color="#d9e8f5"/><stop offset="0.900" stop-color="#e3eef9"/><stop offset="0.950" stop-color="#eef5fc"/><stop offset="1.000" stop-color="#f7fbff"/></linearGradient></defs>
<rect x="231.5" y="284.25" width="10.1" height="200.20" fill="url(#g276)" stroke="#000" stroke-width="0.8"/>
<line x1="241.60" y1="484.45" x2="245.10" y2="484.45" stroke="#000" stroke-width="0.8"/>
<text x="247.80" y="488.35" font-size="8.3">0</text>
<line x1="241.60" y1="450.52" x2="245.10" y2="450.52" stroke="#000" stroke-width="0.8"/>
<text x="247.80" y="454.42" font-size="8.3">10</text>
<line x1="241.60" y1="416.59" x2="245.10" y2="416.59" stroke="#000" stroke-width="0.8"/>
<text x="247.80" y="420.49" font-size="8.3">20</text>
<line x1="241.60" y1="382.65" x2="245.10" y2="382.65" stroke="#000" stroke-width="0.8"/>
<text x="247.80" y="386.55" font-size="8.3">30</text>
<line x1="241.60" y1="348.72" x2="245.10" y2="348.72" stroke="#000" stroke-width="0.8"/>
<text x="247.80" y="352.62" font-size="8.3">40</text>
<line x1="241.60" y1="314.79" x2="245.10" y2="314.79" stroke="#000" stroke-width="0.8"/>
<text x="247.80" y="318.69" font-size="8.3">50</text>
</g>
<text x="361.2" y="39.50" text-anchor="middle" class="th">Precision</text>
<text x="411.2" y="39.50" text-anchor="middle" class="th">Recall</text>
<text x="466.8" y="39.50" text-anchor="middle" class="th">F1-score</text>
<text x="521.8" y="39.50" text-anchor="middle" class="th">Support</text>
<text x="303.7" y="54.70" text-anchor="middle" class="tl">0</text>
<text x="361.2" y="54.70" text-anchor="middle" class="tv">1</text>
<text x="411.2" y="54.70" text-anchor="middle" class="tv">0.78</text>
<text x="466.8" y="54.70" text-anchor="middle" class="tv">0.88</text>
<text x="521.8" y="54.70" text-anchor="middle" class="tv">51</text>
<text x="303.7" y="70.28" text-anchor="middle" class="tl">1</text>
<text x="361.2" y="70.28" text-anchor="middle" class="tv">1</text>
<text x="411.2" y="70.28" text-anchor="middle" class="tv">0.9</text>
<text x="466.8" y="70.28" text-anchor="middle" class="tv">0.95</text>
<text x="521.8" y="70.28" text-anchor="middle" class="tv">51</text>
<text x="303.7" y="85.86" text-anchor="middle" class="tl">2</text>
<text x="361.2" y="85.86" text-anchor="middle" class="tv">0.80</text>
<text x="411.2" y="85.86" text-anchor="middle" class="tv">0.96</text>
<text x="466.8" y="85.86" text-anchor="middle" class="tv">0.87</text>
<text x="521.8" y="85.86" text-anchor="middle" class="tv">53</text>
<text x="303.7" y="101.44" text-anchor="middle" class="tl">3</text>
<text x="361.2" y="101.44" text-anchor="middle" class="tv">1</text>
<text x="411.2" y="101.44" text-anchor="middle" class="tv">0.94</text>
<text x="466.8" y="101.44" text-anchor="middle" class="tv">0.97</text>
<text x="521.8" y="101.44" text-anchor="middle" class="tv">54</text>
<text x="303.7" y="117.02" text-anchor="middle" class="tl">4</text>
<text x="361.2" y="117.02" text-anchor="middle" class="tv">1</text>
<text x="411.2" y="117.02" text-anchor="middle" class="tv">0.96</text>
<text x="466.8" y="117.02" text-anchor="middle" class="tv">0.98</text>
<text x="521.8" y="117.02" text-anchor="middle" class="tv">54</text>
<text x="303.7" y="132.60" text-anchor="middle" class="tl">5</text>
<text x="361.2" y="132.60" text-anchor="middle" class="tv">1</text>
<text x="411.2" y="132.60" text-anchor="middle" class="tv">0.85</text>
<text x="466.8" y="132.60" text-anchor="middle" class="tv">0.92</text>
<text x="521.8" y="132.60" text-anchor="middle" class="tv">59</text>
<text x="303.7" y="148.18" text-anchor="middle" class="tl">6</text>
<text x="361.2" y="148.18" text-anchor="middle" class="tv">1</text>
<text x="411.2" y="148.18" text-anchor="middle" class="tv">0.87</text>
<text x="466.8" y="148.18" text-anchor="middle" class="tv">0.93</text>
<text x="521.8" y="148.18" text-anchor="middle" class="tv">53</text>
<text x="303.7" y="163.76" text-anchor="middle" class="tl">7</text>
<text x="361.2" y="163.76" text-anchor="middle" class="tv">1</text>
<text x="411.2" y="163.76" text-anchor="middle" class="tv">0.95</text>
<text x="466.8" y="163.76" text-anchor="middle" class="tv">0.97</text>
<text x="521.8" y="163.76" text-anchor="middle" class="tv">59</text>
<text x="303.7" y="179.34" text-anchor="middle" class="tl">unk(8-9)</text>
<text x="361.2" y="179.34" text-anchor="middle" class="tv">0.68</text>
<text x="411.2" y="179.34" text-anchor="middle" class="tv">0.88</text>
<text x="466.8" y="179.34" text-anchor="middle" class="tv">0.77</text>
<text x="521.8" y="179.34" text-anchor="middle" class="tv">104</text>
<text x="287.2" y="210.60" class="tl">Accuracy</text>
<text x="466.8" y="210.60" text-anchor="middle" class="tv">0.90</text>
<text x="521.8" y="210.60" text-anchor="middle" class="tv">538</text>
<text x="361.2" y="316.30" text-anchor="middle" class="th">Precision</text>
<text x="411.2" y="316.30" text-anchor="middle" class="th">Recall</text>
<text x="466.8" y="316.30" text-anchor="middle" class="th">F1-score</text>
<text x="521.8" y="316.30" text-anchor="middle" class="th">Support</text>
<text x="303.7" y="331.50" text-anchor="middle" class="tl">0</text>
<text x="361.2" y="331.50" text-anchor="middle" class="tv">0.86</text>
<text x="411.2" y="331.50" text-anchor="middle" class="tv">1</text>
<text x="466.8" y="331.50" text-anchor="middle" class="tv">0.93</text>
<text x="521.8" y="331.50" text-anchor="middle" class="tv">51</text>
<text x="303.7" y="347.08" text-anchor="middle" class="tl">1</text>
<text x="361.2" y="347.08" text-anchor="middle" class="tv">0.88</text>
<text x="411.2" y="347.08" text-anchor="middle" class="tv">1</text>
<text x="466.8" y="347.08" text-anchor="middle" class="tv">0.94</text>
<text x="521.8" y="347.08" text-anchor="middle" class="tv">51</text>
<text x="303.7" y="362.66" text-anchor="middle" class="tl">2</text>
<text x="361.2" y="362.66" text-anchor="middle" class="tv">0.39</text>
<text x="411.2" y="362.66" text-anchor="middle" class="tv">1</text>
<text x="466.8" y="362.66" text-anchor="middle" class="tv">0.56</text>
<text x="521.8" y="362.66" text-anchor="middle" class="tv">53</text>
<text x="303.7" y="378.24" text-anchor="middle" class="tl">3</text>
<text x="361.2" y="378.24" text-anchor="middle" class="tv">0.95</text>
<text x="411.2" y="378.24" text-anchor="middle" class="tv">1</text>
<text x="466.8" y="378.24" text-anchor="middle" class="tv">0.97</text>
<text x="521.8" y="378.24" text-anchor="middle" class="tv">54</text>
<text x="303.7" y="393.82" text-anchor="middle" class="tl">4</text>
<text x="361.2" y="393.82" text-anchor="middle" class="tv">1</text>
<text x="411.2" y="393.82" text-anchor="middle" class="tv">1</text>
<text x="466.8" y="393.82" text-anchor="middle" class="tv">1</text>
<text x="521.8" y="393.82" text-anchor="middle" class="tv">54</text>
<text x="303.7" y="409.40" text-anchor="middle" class="tl">5</text>
<text x="361.2" y="409.40" text-anchor="middle" class="tv">0.98</text>
<text x="411.2" y="409.40" text-anchor="middle" class="tv">1</text>
<text x="466.8" y="409.40" text-anchor="middle" class="tv">0.99</text>
<text x="521.8" y="409.40" text-anchor="middle" class="tv">59</text>
<text x="303.7" y="424.98" text-anchor="middle" class="tl">6</text>
<text x="361.2" y="424.98" text-anchor="middle" class="tv">1</text>
<text x="411.2" y="424.98" text-anchor="middle" class="tv">1</text>
<text x="466.8" y="424.98" text-anchor="middle" class="tv">1</text>
<text x="521.8" y="424.98" text-anchor="middle" class="tv">53</text>
<text x="303.7" y="440.56" text-anchor="middle" class="tl">7</text>
<text x="361.2" y="440.56" text-anchor="middle" class="tv">0.98</text>
<text x="411.2" y="440.56" text-anchor="middle" class="tv">1</text>
<text x="466.8" y="440.56" text-anchor="middle" class="tv">0.99</text>
<text x="521.8" y="440.56" text-anchor="middle" class="tv">59</text>
<text x="303.7" y="456.14" text-anchor="middle" class="tl">unk(8-9)</text>
<text x="361.2" y="456.14" text-anchor="middle" class="tv">0</text>
<text x="411.2" y="456.14" text-anchor="middle" class="tv">0</text>
<text x="466.8" y="456.14" text-anchor="middle" class="tv">0</text>
<text x="521.8" y="456.14" text-anchor="middle" class="tv">104</text>
<text x="287.2" y="487.40" class="tl">Accuracy</text>
<text x="477.2" y="487.40" text-anchor="middle" class="tv">0.81</text>
<text x="521.8" y="487.40" text-anchor="middle" class="tv">538</text>
<text x="270.1" y="263.9" text-anchor="middle" class="cap" font-size="12.5">(<tspan font-weight="bold">a</tspan>)</text>
<text x="270.3" y="541.2" text-anchor="middle" class="cap" font-size="13">(<tspan font-weight="bold">b</tspan>)</text>
</svg>
</body></html>
